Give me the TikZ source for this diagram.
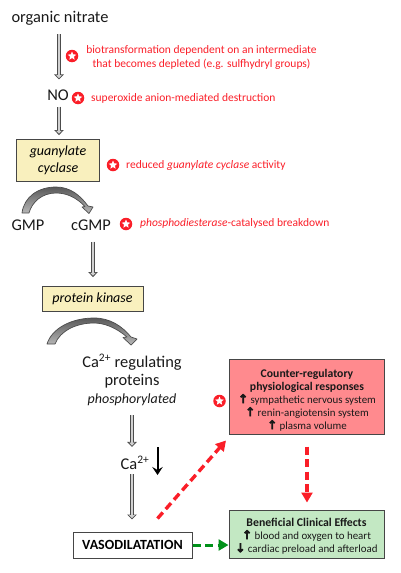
\documentclass[tikz,border=0pt]{standalone}
\usepackage{fontspec}
\setmainfont{Carlito}
\newfontfamily\arrfont{DejaVu Sans}
\usetikzlibrary{arrows.meta,shapes.geometric,calc}
\definecolor{redtxt}{RGB}{250,30,40}
\definecolor{boxyellow}{RGB}{249,240,190}
\definecolor{boxred}{RGB}{255,138,142}
\definecolor{boxgreen}{RGB}{195,232,195}
\definecolor{edge}{RGB}{70,70,70}
\definecolor{dgreen}{RGB}{0,145,25}
\newcommand{\upa}{{\arrfont\addfontfeature{FakeBold=6}\fontsize{12}{11}\selectfont ↑}}
\newcommand{\dna}{{\arrfont\addfontfeature{FakeBold=6}\fontsize{12}{11}\selectfont ↓}}
\newcommand{\hd}[1]{{\fontsize{11.7}{14}\selectfont\bfseries #1}}
\tikzset{
  x=1pt,y=-1pt,
  lbl/.style={inner sep=0pt,font=\fontsize{16.4}{19}\selectfont,align=center,text=black!90},
  redlbl/.style={inner sep=0pt,font=\fontsize{11.5}{14}\selectfont,align=center,text=redtxt},
  ybox/.style={draw=edge,line width=0.9pt,fill=boxyellow,inner sep=0pt,font=\fontsize{14}{17}\selectfont\itshape,align=center},
  infobox/.style={draw=edge,line width=1pt,inner sep=0pt,font=\fontsize{10.9}{13}\selectfont,align=center,text=black!90},
  blockarrow/.style={line width=4.6pt,draw=black!70,-{Triangle[length=5pt,width=9.5pt]},
    postaction={draw=black!18,line width=2.6pt,-{Triangle[length=3pt,width=5.5pt]},shorten >=1.3pt}},
  curved/.style={top color=black!65,bottom color=black!28,draw=black!70,line width=0.7pt,line join=round},
  starbadge/.style={circle,fill=redtxt,minimum size=12.5pt,inner sep=0pt},
  whitestar/.style={star,star points=5,star point ratio=2.2,fill=white,minimum size=9pt,inner sep=0pt},
  dashred/.style={draw=redtxt,line width=3.4pt,dash pattern=on 8pt off 4.5pt,-{Triangle[length=10pt,width=11pt]}},
  dashgreen/.style={draw=dgreen,line width=3pt,dash pattern=on 8pt off 4.5pt,-{Triangle[length=10pt,width=11pt]}},
  thinblack/.style={draw=black,line width=2pt,-{Stealth[length=8pt,width=10.5pt,inset=3pt]}},
}
\newcommand{\badge}[2]{\node[starbadge] at (#2) (#1) {}; \node[whitestar] at (#2) (#1s) {};}
\begin{document}
\begin{tikzpicture}
\useasboundingbox (0,0) rectangle (400,573);
\node[lbl] (nitrate) at (60,18) {organic nitrate};
\node[lbl] (no) at (58,95) {NO};
\node[ybox,minimum width=83pt,minimum height=42pt] (gc) at (58,160.5) {guanylate\\cyclase};
\node[lbl] (gmp) at (28,225) {GMP};
\node[lbl] (cgmp) at (91,225) {cGMP};
\node[ybox,minimum width=101pt,minimum height=25pt] (pk) at (92.5,299) {protein kinase};
\node[lbl] (reg) at (132,362) {Ca\textsuperscript{2+} regulating};
\node[lbl] (prot) at (132,381) {proteins};
\node[lbl,font=\fontsize{14}{16}\selectfont\itshape] (phos) at (132,400) {phosphorylated};
\node[lbl,anchor=center] (ca) at (135,463) {Ca\textsuperscript{2+}};
\node[draw=edge,line width=1pt,fill=white,minimum width=119pt,minimum height=26pt,inner sep=0pt,font=\fontsize{14}{15}\selectfont\bfseries] (vaso) at (132.5,545) {VASODILATATION};
\node[infobox,fill=boxred,minimum width=155pt,minimum height=75pt] (cr) at (307,396.5) {\rule{0pt}{15pt}\hd{Counter-regulatory}\\\hd{physiological responses}\\\upa\ sympathetic nervous system\\\upa\ renin-angiotensin system\\\upa\ plasma volume};
\node[infobox,fill=boxgreen,minimum width=155pt,minimum height=48pt] (bc) at (306.5,534) {\rule{0pt}{12pt}{\fontsize{11.8}{13}\selectfont\bfseries Beneficial Clinical Effects}\\\upa\ blood and oxygen to heart\\\dna\ cardiac preload and afterload};
% red labels
\node[redlbl] (t1) at (201.5,57) {biotransformation dependent on an intermediate\\that becomes depleted (e.g. sulfhydryl groups)};
\node[redlbl,anchor=west] (t2) at (91,98) {superoxide anion-mediated destruction};
\node[redlbl,anchor=west] (t3) at (126,165) {reduced \textit{guanylate cyclase} activity};
\node[redlbl,anchor=west] (t4) at (140,223) {\textit{phosphodiesterase}-catalysed breakdown};
\badge{s1}{72,56}
\badge{s2}{78,98}
\badge{s3}{113,165}
\badge{s4}{126,224}
\badge{s5}{219.5,401}
% block arrows
\draw[blockarrow] ($(nitrate.south)+(-1,9)$) -- ($(no.north)+(1,-10)$);
\draw[blockarrow] ($(no.south)+(1,6)$) -- ($(gc.north)+(1,-4)$);
\draw[blockarrow] ($(cgmp.south)+(2,11)$) -- ($(pk.north)+(0.5,-9)$);
\draw[blockarrow] ($(phos.south)+(0,9)$) -- ($(ca.north)+(-3,-9)$);
\draw[blockarrow] ($(ca.south)+(-3,4)$) -- ($(vaso.north)+(-0.5,-12)$);
% curved arrows
\path[curved] (22,213) .. controls (24,197) and (38,187) .. (56,187) .. controls (70,187) and (80,195) .. (88,206) -- (93,207) -- (89,213.5) -- (82,207) -- (85,206.5) .. controls (76,197) and (66,193) .. (56,193) .. controls (42,193) and (32,202) .. (29,213) -- cycle;
\path[curved] (47,344) .. controls (52,328) and (72,318) .. (94,318) .. controls (110,318) and (122,326) .. (131,337) -- (137,339) -- (131,345) -- (123,337.5) -- (127,337) .. controls (116,327.5) and (104,323) .. (94,323) .. controls (76,323) and (60,331) .. (55,344) -- cycle;
% other connectors
\draw[thinblack] ($(ca.east)+(8,-16)$) -- ($(ca.east)+(8,12)$);
\draw[dashred] ($(vaso.north east)+(-35,-13)$) -- ($(cr.south west)+(-3,6)$);
\draw[dashred] ($(cr.south)+(0,12)$) -- ($(bc.north)+(0.5,-7)$);
\draw[dashgreen] (vaso.east) -- (vaso.east -| bc.west);
\end{tikzpicture}
\end{document}
